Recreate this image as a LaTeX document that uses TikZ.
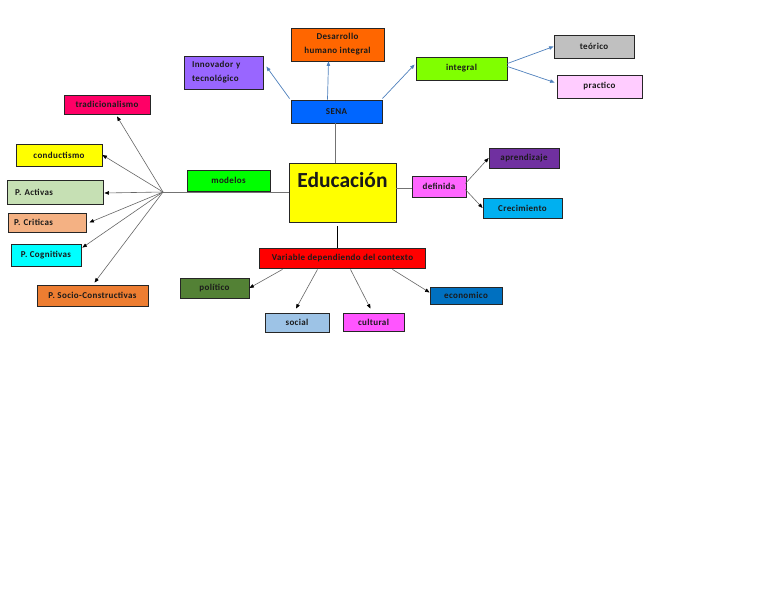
\documentclass[tikz,border=0pt]{standalone}
\usepackage{fontspec}
\setmainfont{Carlito}
\newfontfamily\boxfont[LetterSpace=4,BoldFont={Carlito Bold}]{Carlito}
\usetikzlibrary{arrows.meta,calc}
\definecolor{cdes}{HTML}{FF6600}
\definecolor{cinn}{HTML}{9966FF}
\definecolor{csena}{HTML}{0066FF}
\definecolor{cinteg}{HTML}{80FF00}
\definecolor{cteo}{HTML}{C0C0C0}
\definecolor{cprac}{HTML}{FFCCFF}
\definecolor{ctrad}{HTML}{FF0066}
\definecolor{ccond}{HTML}{FFFF00}
\definecolor{cact}{HTML}{C6E0B4}
\definecolor{ccrit}{HTML}{F4B183}
\definecolor{ccog}{HTML}{00FFFF}
\definecolor{csoc}{HTML}{ED7D31}
\definecolor{cmod}{HTML}{00FF00}
\definecolor{cedu}{HTML}{FFFF00}
\definecolor{cdef}{HTML}{FF66FF}
\definecolor{capr}{HTML}{7030A0}
\definecolor{ccre}{HTML}{00B0F0}
\definecolor{cvar}{HTML}{FF0000}
\definecolor{cpol}{HTML}{538135}
\definecolor{csocl}{HTML}{9DC3E6}
\definecolor{ccul}{HTML}{FF55FF}
\definecolor{ceco}{HTML}{0070C0}
\definecolor{bluearr}{HTML}{4F81BD}
\definecolor{txt}{HTML}{1A1A1A}
\begin{document}
\begin{tikzpicture}[x=1pt,y=-1pt,
  box/.style={draw=black!85, line width=0.8pt, inner sep=0pt, text=txt,
    font=\boxfont\bfseries\fontsize{9}{14}\selectfont},
  garr/.style={draw=black!60, line width=0.6pt, -{Triangle[length=4.5pt,width=3.5pt,color=black]}},
  barr/.style={draw=bluearr, line width=0.7pt, -{Triangle[length=4.5pt,width=3.5pt]}},
  gline/.style={draw=black!55, line width=0.6pt}]
\useasboundingbox[fill=white] (0,0) rectangle (768,594);

\coordinate (hub) at (163,192);

% boxes
\node[box, fill=cdes, minimum width=93pt, minimum height=33pt, align=center] (des) at (337.5,44.5) {Desarrollo\\humano integral};
\node[box, fill=cinn, minimum height=33pt, text width=63pt, inner xsep=8pt, align=left] (inn) at (223.5,72.5) {Innovador y\\tecnológico};
\node[box, fill=csena, minimum width=91pt, minimum height=23pt] (sena) at (336.5,111.5) {SENA};
\node[box, fill=cinteg, minimum width=91pt, minimum height=23pt] (integ) at (461.5,68.5) {integral};
\node[box, fill=cteo, minimum width=80pt, minimum height=23pt] (teo) at (594,46.5) {teórico};
\node[box, fill=cprac, minimum width=85pt, minimum height=23pt] (prac) at (599.5,86.5) {practico};
\node[box, fill=ctrad, minimum width=86pt, minimum height=19pt] (trad) at (107,104.5) {tradicionalismo};
\node[box, fill=ccond, minimum width=86pt, minimum height=22pt] (cond) at (59,155) {conductismo};
\node[box, fill=cact, minimum width=96pt, minimum height=24pt, text width=80pt, align=left] (act) at (55,192) {P. Activas};
\node[box, fill=ccrit, minimum width=78pt, minimum height=19pt, text width=66pt, align=left] (crit) at (47,222.5) {P. Criticas};
\node[box, fill=ccog, minimum width=70pt, minimum height=22pt] (cog) at (46,255) {P. Cognitivas};
\node[box, fill=csoc, minimum width=111pt, minimum height=21pt] (soc) at (92.5,295.5) {P. Socio-Constructivas};

\node[box, fill=cedu, minimum width=107pt, minimum height=59pt, text height=16pt, text depth=27pt,
  font=\bfseries\fontsize{21.5}{24}\selectfont] (edu) at (342.5,192.5) {Educación};
% line behind modelos
\draw[gline] (hub) -- (edu.west |- hub);
\node[box, fill=cmod, minimum width=83pt, minimum height=21pt] (mod) at (228.5,180.5) {modelos};
\node[box, fill=cdef, minimum width=54pt, minimum height=21pt] (def) at (439,186.5) {definida};
\node[box, fill=capr, minimum width=70pt, minimum height=20pt] (apr) at (524,158) {aprendizaje};
\node[box, fill=ccre, minimum width=79pt, minimum height=20pt] (cre) at (522.5,208) {Crecimiento};
\node[box, fill=cvar, minimum width=166pt, minimum height=20pt] (var) at (342.5,258) {Variable dependiendo del contexto};
\node[box, fill=cpol, minimum width=69pt, minimum height=20pt] (pol) at (214.5,288) {político};
\node[box, fill=csocl, minimum width=64pt, minimum height=19pt] (socl) at (297,322.5) {social};
\node[box, fill=ccul, minimum width=61pt, minimum height=18pt] (cul) at (373.5,322) {cultural};
\node[box, fill=ceco, minimum width=72pt, minimum height=17pt] (eco) at (466,295.5) {economico};

% hub arrows
\draw[garr] (hub) -- ($(trad.south)+(10,2)$);
\draw[garr] (hub) -- (cond.east);
\draw[garr] (hub) -- ($(act.east)+(1,1)$);
\draw[garr] (hub) -- ($(crit.east)+(3,0)$);
\draw[garr] (hub) -- ($(cog.north east)+(1,4)$);
\draw[garr] (hub) -- ($(soc.north)+(2,-2)$);

% SENA
\draw[gline] (sena.south -| 335,0) -- (edu.north -| 335,0);
\draw[barr] ($(sena.north west)+(-1,-1)$) -- ($(inn.north east)+(3,11)$);
\draw[barr] ($(sena.north)+(-9,0)$) -- ($(des.south)+(-9,0)$);
\draw[barr] ($(sena.north east)+(0,-1)$) -- ($(integ.west)+(-1,-4)$);
\draw[barr] ($(integ.east)+(0,-5)$) -- (teo.west);
\draw[barr] ($(integ.east)+(0,-2)$) -- ($(prac.west)+(-2,-4)$);

% definida
\draw[gline] (edu.east |- 0,188) -- (def.west |- 0,188);
\draw[garr] ($(def.east)+(-1,-3)$) -- (apr.west);
\draw[garr] ($(def.east)+(-1,3)$) -- (cre.west);

% variable
\draw[line width=0.7pt, black] ($(edu.south)+(-5.5,4)$) -- ($(var.north)+(-5.5,0)$);
\draw[garr] ($(var.south)+(-60,1)$) -- (pol.east);
\draw[garr] ($(var.south)+(-25,1)$) -- ($(socl.north)+(-1,-4)$);
\draw[garr] ($(var.south)+(8,1)$) -- ($(cul.north)+(-3,-4)$);
\draw[garr] ($(var.south)+(50,1)$) -- ($(eco.west)+(0,-3)$);
\end{tikzpicture}
\end{document}
